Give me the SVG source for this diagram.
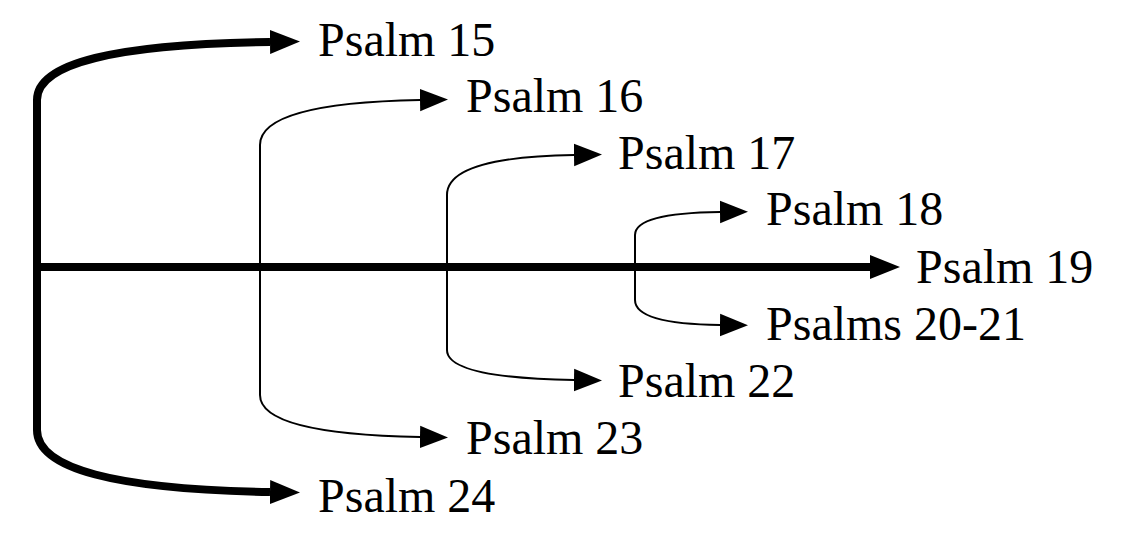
<svg xmlns="http://www.w3.org/2000/svg" width="1130" height="545" viewBox="0 0 1130 545">
<style>
text{font-family:"Liberation Serif","Times New Roman",serif;font-size:48px;fill:#000}
.thick{fill:none;stroke:#000;stroke-width:8}
.thin{fill:none;stroke:#000;stroke-width:2}
</style>
<defs>
<marker id="ah" viewBox="0 0 10 10" refX="0" refY="5" markerWidth="28" markerHeight="28" markerUnits="userSpaceOnUse" orient="auto"><path d="M0,1 L10,5 L0,9 Z" fill="#000"/></marker>
<marker id="ahb" viewBox="0 0 10 10" refX="0" refY="5" markerWidth="30" markerHeight="30" markerUnits="userSpaceOnUse" orient="auto"><path d="M0,1 L10,5 L0,9 Z" fill="#000"/></marker>
</defs>
<g id="connectors">
<path class="thick" d="M37,430 L37,100 Q37,45 270,42" marker-end="url(#ahb)"/>
<path class="thick" d="M37,430 Q37,488 270,492" marker-end="url(#ahb)"/>
<path class="thick" d="M37,267 L870,267" marker-end="url(#ahb)"/>
<path class="thin" d="M260,395 L260,145 Q260,103 420,100" marker-end="url(#ah)"/>
<path class="thin" d="M260,395 Q260,434 420,437" marker-end="url(#ah)"/>
<path class="thin" d="M447,350 L447,195 Q447,157 574,155" marker-end="url(#ah)"/>
<path class="thin" d="M447,350 Q447,378 574,380" marker-end="url(#ah)"/>
<path class="thin" d="M635,300 L635,235 Q635,213 720,212" marker-end="url(#ah)"/>
<path class="thin" d="M635,300 Q635,324 720,325" marker-end="url(#ah)"/>
</g>
<g id="p15"><text x="318" y="56">Psalm 15</text></g>
<g id="p16"><text x="466" y="112">Psalm 16</text></g>
<g id="p17"><text x="618" y="169">Psalm 17</text></g>
<g id="p18"><text x="766" y="225">Psalm 18</text></g>
<g id="p19"><text x="916" y="283">Psalm 19</text></g>
<g id="p20"><text x="766" y="340">Psalms 20-21</text></g>
<g id="p22"><text x="618" y="397">Psalm 22</text></g>
<g id="p23"><text x="466" y="454">Psalm 23</text></g>
<g id="p24"><text x="318" y="512">Psalm 24</text></g>
</svg>
